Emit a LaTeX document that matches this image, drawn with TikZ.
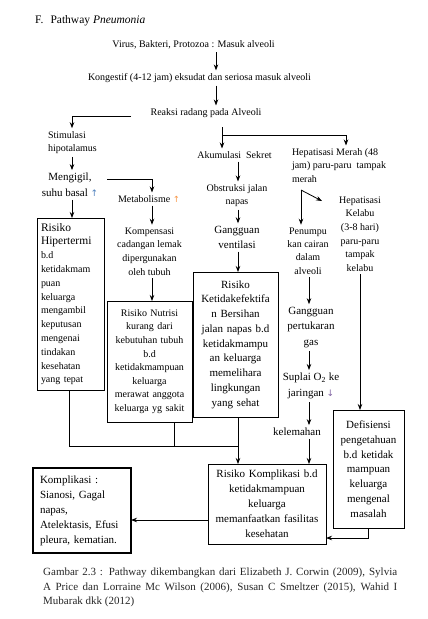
\documentclass[tikz,border=0pt]{standalone}
\usepackage{fontspec}
\setmainfont{Liberation Serif}
\newfontfamily\symfont{DejaVu Sans}
\usetikzlibrary{arrows.meta}
\definecolor{upblue}{HTML}{4F81BD}
\definecolor{uporange}{HTML}{F79646}
\definecolor{downpurple}{HTML}{8064A2}
\tikzset{
  txt/.style={inner sep=0pt, outer sep=3pt, align=center, font=\fontsize{10}{13.5}\selectfont},
  txtb/.style={txt, font=\fontsize{11}{15}\selectfont},
  rbox/.style={draw, line width=0.8pt, inner ysep=2pt, outer sep=0pt, align=center},
  arw/.style={line width=0.8pt, -{Stealth[length=6pt,width=4.5pt]}},
  lin/.style={line width=0.8pt},
}
\begin{document}
\begin{tikzpicture}[x=1pt,y=-1pt]
\useasboundingbox (0,0) rectangle (428,619);
% title
\node[anchor=west, inner sep=0pt, font=\fontsize{11.5}{14}\selectfont] (title) at (35,21) {F.\hspace{7pt}Pathway \textit{Pneumonia}};
% free texts
\node[txt] (virus) at (193.5,45) {Virus, Bakteri, Protozoa : Masuk alveoli};
\node[txt] (kong) at (199.5,78) {Kongestif (4-12 jam) eksudat dan seriosa masuk alveoli};
\node[txt] (reaksi) at (206,113) {Reaksi radang pada Alveoli};
\node[txt, align=left, anchor=west] (stim) at (45,142.5) {Stimulasi\\hipotalamus};
\node[txtb, font=\fontsize{11}{16}\selectfont] (meng) at (70,185) {Mengigil,\\suhu basal {\symfont\fontsize{9}{9}\selectfont\color{upblue}↑}};
\node[txt] (metab) at (149,199) {Metabolisme {\symfont\fontsize{8.5}{9}\selectfont\color{uporange}↑}};
\node[txt, font=\fontsize{10}{13.6}\selectfont] (komp) at (149.5,251.5) {Kompensasi\\cadangan lemak\\dipergunakan\\oleh tubuh};
\node[txt] (akum) at (234.5,155) {Akumulasi\ \ Sekret};
\node[txt, font=\fontsize{10}{13}\selectfont] (obst) at (237,195.5) {Obstruksi jalan\\napas};
\node[txtb] (gang) at (237,237.5) {Gangguan\\ventilasi};
\node[txt, align=left, anchor=west] (hepm) at (289,165.5) {Hepatisasi Merah (48\\jam) paru-paru\ \ tampak\\merah};
\node[txt, font=\fontsize{10}{13.3}\selectfont] (penum) at (308,251) {Penumpu\\kan cairan\\dalam\\alveoli};
\node[txt, font=\fontsize{10}{13.6}\selectfont] (hepk) at (360,234) {Hepatisasi\\Kelabu\\(3-8 hari)\\paru-paru\\tampak\\kelabu};
\node[txtb, font=\fontsize{11}{15.5}\selectfont] (gpert) at (311,327.5) {Gangguan\\pertukaran\\gas};
\node[txtb, font=\fontsize{11}{16}\selectfont] (supl) at (311,386) {Suplai O\textsubscript{2} ke\\jaringan {\symfont\fontsize{9}{9}\selectfont\color{downpurple}↓}};
\node[txtb] (kelem) at (297,432) {kelemahan};
% boxes
\node[rbox, text width=59pt, inner xsep=4pt, minimum height=172pt, align=left, font=\fontsize{10}{13.8}\selectfont] (hip) at (70.5,304)
  {{\fontsize{11.5}{13.8}\selectfont Risiko}\\{\fontsize{11.5}{13.8}\selectfont Hipertermi}\\b.d\\ketidakmam\\puan\\keluarga\\mengambil\\keputusan\\mengenai\\tindakan\\kesehatan\\yang tepat};
\node[rbox, text width=79pt, inner xsep=3pt, minimum height=121pt, font=\fontsize{10}{13.6}\selectfont] (nut) at (149.5,361.5)
  {Risiko Nutrisi\\kurang dari\\kebutuhan tubuh\\b.d\\ketidakmampuan\\keluarga\\merawat anggota\\keluarga yg sakit};
\node[rbox, text width=78pt, inner xsep=3.5pt, minimum height=145pt, font=\fontsize{11}{14.75}\selectfont] (ketid) at (235.5,344.5)
  {Risiko\\Ketidakefektifa\\n Bersihan\\jalan napas b.d\\ketidakmampu\\an keluarga\\memelihara\\lingkungan\\yang sehat};
\node[rbox, text width=64pt, inner xsep=3.5pt, minimum height=118pt, font=\fontsize{11}{14.8}\selectfont] (defis) at (368.5,469)
  {Defisiensi\\pengetahuan\\b.d ketidak\\mampuan\\keluarga\\mengenal\\masalah};
\node[rbox, text width=110pt, inner xsep=4pt, minimum height=80pt, font=\fontsize{11}{15}\selectfont] (kompbd) at (267,504)
  {Risiko Komplikasi b.d\\ketidakmampuan\\keluarga\\memanfaatkan fasilitas\\kesehatan};
\node[rbox, line width=2pt, text width=84pt, inner xsep=7pt, minimum height=85pt, align=left, font=\fontsize{11}{15}\selectfont] (kompl) at (82,510.5)
  {Komplikasi :\\Sianosi, Gagal\\napas,\\Atelektasis, Efusi\\pleura, kematian.};
% caption
\node[anchor=north west, inner sep=0pt, align=left, font=\fontsize{11}{14.5}\selectfont, text=black!85] (cap) at (43,568)
  {\makebox[354pt][s]{Gambar 2.3 : Pathway dikembangkan dari Elizabeth J. Corwin (2009), Sylvia}\\
   \makebox[354pt][s]{A Price dan Lorraine Mc Wilson (2006), Susan C Smeltzer (2015), Wahid I}\\
   Mubarak dkk (2012)};
% connectors
\coordinate (cA) at (216,0);
\draw[arw] (virus.south -| cA) -- (kong.north -| cA);
\draw[arw] (kong.south -| cA) -- (reaksi.north -| cA);
\coordinate (rL) at (131,116);
\coordinate (cB) at (72,0);
\draw[arw] (rL) -| (stim.north -| cB);
\draw[arw] (stim.south -| cB) -- (meng.north -| cB);
\draw[arw] (meng.south -| cB) -- (hip.north -| cB);
\coordinate (mR) at (107,179);
\coordinate (cC) at (152,0);
\draw[arw] (mR) -| (metab.north -| cC);
\draw[arw] (metab.south -| cC) -- (komp.north -| cC);
\draw[arw] (komp.south -| cC) -- (nut.north -| cC);
\coordinate (rb0) at (222,127);
\coordinate (rb1) at (222,135);
\coordinate (cD) at (346,0);
\draw[arw] (rb0) -- (akum.north -| rb0);
\draw[arw] (rb1) -| (hepm.north -| cD);
\coordinate (cE) at (238,0);
\draw[arw] (akum.south -| cE) -- (obst.north -| cE);
\draw[arw] (obst.south -| cE) -- (gang.north -| cE);
\draw[arw] (gang.south -| cE) -- (ketid.north -| cE);
\coordinate (hs) at (301,190);
\coordinate (hd) at (322,201);
\draw[arw] (hs) -- (penum.north -| hs);
\draw[arw] (hs) -- (hd);
\coordinate (cF) at (309,0);
\draw[arw] (penum.south -| cF) -- (gpert.north -| cF);
\draw[arw] (gpert.south -| cF) -- (supl.north -| cF);
\draw[arw] (supl.south -| cF) -- (kelem.north -| cF);
\draw[arw] (kelem.south -| cF) -- (kompbd.north -| cF);
\coordinate (cG) at (360,0);
\draw[arw] (hepk.south -| cG) -- (defis.north -| cG);
\coordinate (j1) at (69,446);
\coordinate (j2) at (174,446);
\coordinate (j3) at (238,446);
\draw[lin] (hip.south -| j1) -- (j1) -- (j3);
\draw[lin] (nut.south -| j2) -- (j2);
\draw[arw] (ketid.south -| j3) -- (kompbd.north -| j3);
\coordinate (dj) at (368,538);
\draw[arw] (defis.south -| dj) -- (dj) -- (kompbd.east |- dj);
\coordinate (kk) at (0,520);
\draw[arw] (kompbd.west |- kk) -- (kompl.east |- kk);
\end{tikzpicture}
\end{document}
